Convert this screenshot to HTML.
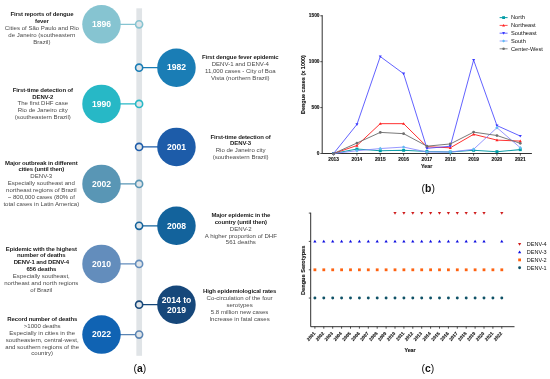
<!DOCTYPE html>
<html lang="en">
<head>
<meta charset="utf-8">
<title>Dengue in Brazil: timeline, cases by region and serotypes</title>
<style>
html,body{margin:0;padding:0;background:#fff;}
body{width:550px;height:379px;overflow:hidden;}
svg{display:block;}
text{font-family:"Liberation Sans", sans-serif;}
.yr{font-size:8.6px;font-weight:bold;fill:#fff;text-anchor:middle;}
.tb{font-size:6px;font-weight:bold;fill:#222;text-anchor:middle;letter-spacing:-0.12px;}
.tn{font-size:6.07px;fill:#4a4a4a;text-anchor:middle;}
.cap{font-size:10.4px;fill:#111;text-anchor:middle;}
.tk{font-size:4.8px;font-weight:bold;fill:#111;stroke:#111;stroke-width:0.12px;}
.tk2{font-size:4.6px;font-weight:bold;fill:#111;stroke:#111;stroke-width:0.1px;}
.al{font-size:5.3px;font-weight:bold;fill:#111;stroke:#111;stroke-width:0.1px;}
.lg{font-size:5.7px;fill:#111;}
.lg2{font-size:5.5px;fill:#111;}
</style>
</head>
<body>
<svg width="550" height="379" viewBox="0 0 550 379">
<rect x="0" y="0" width="550" height="379" fill="#ffffff"/>
<rect x="136.35" y="8.3" width="5.7" height="347.5" fill="#e0e4e7"/>
<line x1="101.5" y1="24.35" x2="139.1" y2="24.35" stroke="#86c4d1" stroke-width="1.2"/>
<circle cx="139.1" cy="24.35" r="3.55" fill="#e0e4e7" stroke="#86c4d1" stroke-width="1.6"/>
<circle cx="101.5" cy="24.35" r="19.25" fill="#86c4d1"/>
<text x="101.5" y="27.05" class="yr">1896</text>
<line x1="176.45" y1="67.7" x2="139.1" y2="67.7" stroke="#1a7db5" stroke-width="1.2"/>
<circle cx="139.1" cy="67.7" r="3.55" fill="#e0e4e7" stroke="#1a7db5" stroke-width="1.6"/>
<circle cx="176.45" cy="67.7" r="19.25" fill="#1a7db5"/>
<text x="176.45" y="70.40" class="yr">1982</text>
<line x1="101.5" y1="103.9" x2="139.1" y2="103.9" stroke="#27b8c6" stroke-width="1.2"/>
<circle cx="139.1" cy="103.9" r="3.55" fill="#e0e4e7" stroke="#27b8c6" stroke-width="1.6"/>
<circle cx="101.5" cy="103.9" r="19.25" fill="#27b8c6"/>
<text x="101.5" y="106.60" class="yr">1990</text>
<line x1="176.45" y1="146.9" x2="139.1" y2="146.9" stroke="#1d5ca9" stroke-width="1.2"/>
<circle cx="139.1" cy="146.9" r="3.55" fill="#e0e4e7" stroke="#1d5ca9" stroke-width="1.6"/>
<circle cx="176.45" cy="146.9" r="19.25" fill="#1d5ca9"/>
<text x="176.45" y="149.60" class="yr">2001</text>
<line x1="101.5" y1="183.9" x2="139.1" y2="183.9" stroke="#5996b5" stroke-width="1.2"/>
<circle cx="139.1" cy="183.9" r="3.55" fill="#e0e4e7" stroke="#5996b5" stroke-width="1.6"/>
<circle cx="101.5" cy="183.9" r="19.25" fill="#5996b5"/>
<text x="101.5" y="186.60" class="yr">2002</text>
<line x1="176.45" y1="225.8" x2="139.1" y2="225.8" stroke="#13639c" stroke-width="1.2"/>
<circle cx="139.1" cy="225.8" r="3.55" fill="#e0e4e7" stroke="#13639c" stroke-width="1.6"/>
<circle cx="176.45" cy="225.8" r="19.25" fill="#13639c"/>
<text x="176.45" y="228.50" class="yr">2008</text>
<line x1="101.5" y1="263.9" x2="139.1" y2="263.9" stroke="#638dbc" stroke-width="1.2"/>
<circle cx="139.1" cy="263.9" r="3.55" fill="#e0e4e7" stroke="#638dbc" stroke-width="1.6"/>
<circle cx="101.5" cy="263.9" r="19.25" fill="#638dbc"/>
<text x="101.5" y="266.60" class="yr">2010</text>
<line x1="176.45" y1="304.7" x2="139.1" y2="304.7" stroke="#16477a" stroke-width="1.2"/>
<circle cx="139.1" cy="304.7" r="3.55" fill="#e0e4e7" stroke="#16477a" stroke-width="1.6"/>
<circle cx="176.45" cy="304.7" r="19.25" fill="#16477a"/>
<text x="176.45" y="302.70" class="yr">2014 to</text>
<text x="176.45" y="312.50" class="yr">2019</text>
<line x1="101.5" y1="334.6" x2="139.1" y2="334.6" stroke="#5a84b3" stroke-width="1.2"/>
<circle cx="139.1" cy="334.6" r="3.55" fill="#e0e4e7" stroke="#5a84b3" stroke-width="1.6"/>
<circle cx="101.5" cy="334.6" r="19.25" fill="#1063b3"/>
<text x="101.5" y="337.30" class="yr">2022</text>
<text x="41.9" y="16.30" class="tb">First reports of dengue</text>
<text x="41.9" y="23.17" class="tb">fever</text>
<text x="41.9" y="30.04" class="tn">Cities of São Paulo and Rio</text>
<text x="41.9" y="36.91" class="tn">de Janeiro (southeastern</text>
<text x="41.9" y="43.78" class="tn">Brazil)</text>
<text x="240.3" y="59.40" class="tb">First dengue fever epidemic</text>
<text x="240.3" y="66.27" class="tn">DENV-1 and DENV-4</text>
<text x="240.3" y="73.14" class="tn">11,000 cases - City of Boa</text>
<text x="240.3" y="80.01" class="tn">Vista (northern Brazil)</text>
<text x="42.8" y="91.70" class="tb">First-time detection of</text>
<text x="42.8" y="98.57" class="tb">DENV-2</text>
<text x="42.8" y="105.44" class="tn">The first DHF case</text>
<text x="42.8" y="112.31" class="tn">Rio de Janeiro city</text>
<text x="42.8" y="119.18" class="tn">(southeastern Brazil)</text>
<text x="240.6" y="138.60" class="tb">First-time detection of</text>
<text x="240.6" y="145.47" class="tb">DENV-3</text>
<text x="240.6" y="152.34" class="tn">Rio de Janeiro city</text>
<text x="240.6" y="159.21" class="tn">(southeastern Brazil)</text>
<text x="41.3" y="164.50" class="tb">Major outbreak in different</text>
<text x="41.3" y="171.37" class="tb">cities (until then)</text>
<text x="41.3" y="178.24" class="tn">DENV-3</text>
<text x="41.3" y="185.11" class="tn">Especially southeast and</text>
<text x="41.3" y="191.98" class="tn">northeast regions of Brazil</text>
<text x="41.3" y="198.85" class="tn">~ 800,000 cases (80% of</text>
<text x="41.3" y="205.72" class="tn">total cases in Latin America)</text>
<text x="240.8" y="216.90" class="tb">Major epidemic in the</text>
<text x="240.8" y="223.77" class="tb">country (until then)</text>
<text x="240.8" y="230.64" class="tn">DENV-2</text>
<text x="240.8" y="237.51" class="tn">A higher proportion of DHF</text>
<text x="240.8" y="244.38" class="tn">561 deaths</text>
<text x="41.3" y="250.60" class="tb">Epidemic with the highest</text>
<text x="41.3" y="257.47" class="tb">number of deaths</text>
<text x="41.3" y="264.34" class="tb">DENV-1 and DENV-4</text>
<text x="41.3" y="271.21" class="tb">656 deaths</text>
<text x="41.3" y="278.08" class="tn">Especially southeast,</text>
<text x="41.3" y="284.95" class="tn">northeast and north regions</text>
<text x="41.3" y="291.82" class="tn">of Brazil</text>
<text x="239.6" y="293.30" class="tb">High epidemiological rates</text>
<text x="239.6" y="300.17" class="tn">Co-circulation of the four</text>
<text x="239.6" y="307.04" class="tn">serotypes</text>
<text x="239.6" y="313.91" class="tn">5.8 million new cases</text>
<text x="239.6" y="320.78" class="tn">Increase in fatal cases</text>
<text x="42.2" y="321.10" class="tb">Record number of deaths</text>
<text x="42.2" y="327.97" class="tn">&gt;1000 deaths</text>
<text x="42.2" y="334.84" class="tn">Especially in cities in the</text>
<text x="42.2" y="341.71" class="tn">southeastern, central-west,</text>
<text x="42.2" y="348.58" class="tn">and southern regions of the</text>
<text x="42.2" y="355.45" class="tn">country)</text>
<text x="139.9" y="371.6" class="cap">(<tspan font-weight="bold">a</tspan>)</text>
<path d="M322.2 15.15V153.5H531.9" fill="none" stroke="#1a1a1a" stroke-width="0.9"/>
<line x1="320.3" y1="153.50" x2="322.2" y2="153.50" stroke="#1a1a1a" stroke-width="0.75"/>
<text x="319.50" y="155.15" class="tk" text-anchor="end">0</text>
<line x1="320.3" y1="107.60" x2="322.2" y2="107.60" stroke="#1a1a1a" stroke-width="0.75"/>
<text x="319.50" y="109.25" class="tk" text-anchor="end">500</text>
<line x1="320.3" y1="61.70" x2="322.2" y2="61.70" stroke="#1a1a1a" stroke-width="0.75"/>
<text x="319.50" y="63.35" class="tk" text-anchor="end">1000</text>
<line x1="320.3" y1="15.80" x2="322.2" y2="15.80" stroke="#1a1a1a" stroke-width="0.75"/>
<text x="319.50" y="17.45" class="tk" text-anchor="end">1500</text>
<line x1="333.60" y1="153.5" x2="333.60" y2="155.6" stroke="#1a1a1a" stroke-width="0.75"/>
<text x="333.60" y="160.80" class="tk" text-anchor="middle">2013</text>
<line x1="356.94" y1="153.5" x2="356.94" y2="155.6" stroke="#1a1a1a" stroke-width="0.75"/>
<text x="356.94" y="160.80" class="tk" text-anchor="middle">2014</text>
<line x1="380.27" y1="153.5" x2="380.27" y2="155.6" stroke="#1a1a1a" stroke-width="0.75"/>
<text x="380.27" y="160.80" class="tk" text-anchor="middle">2015</text>
<line x1="403.61" y1="153.5" x2="403.61" y2="155.6" stroke="#1a1a1a" stroke-width="0.75"/>
<text x="403.61" y="160.80" class="tk" text-anchor="middle">2016</text>
<line x1="426.95" y1="153.5" x2="426.95" y2="155.6" stroke="#1a1a1a" stroke-width="0.75"/>
<text x="426.95" y="160.80" class="tk" text-anchor="middle">2017</text>
<line x1="450.29" y1="153.5" x2="450.29" y2="155.6" stroke="#1a1a1a" stroke-width="0.75"/>
<text x="450.29" y="160.80" class="tk" text-anchor="middle">2018</text>
<line x1="473.62" y1="153.5" x2="473.62" y2="155.6" stroke="#1a1a1a" stroke-width="0.75"/>
<text x="473.62" y="160.80" class="tk" text-anchor="middle">2019</text>
<line x1="496.96" y1="153.5" x2="496.96" y2="155.6" stroke="#1a1a1a" stroke-width="0.75"/>
<text x="496.96" y="160.80" class="tk" text-anchor="middle">2020</text>
<line x1="520.30" y1="153.5" x2="520.30" y2="155.6" stroke="#1a1a1a" stroke-width="0.75"/>
<text x="520.30" y="160.80" class="tk" text-anchor="middle">2021</text>
<text x="426.7" y="168.1" class="al" text-anchor="middle">Year</text>
<text transform="translate(305.3 84.6) rotate(-90)" class="al" text-anchor="middle" textLength="59" lengthAdjust="spacingAndGlyphs">Dengue cases (x 1000)</text>
<polyline points="333.60,153.50 356.94,149.09 380.27,150.75 403.61,150.29 426.95,151.48 450.29,152.03 473.62,150.29 496.96,151.66 520.30,149.64" fill="none" stroke="#14a0aa" stroke-width="1.05" stroke-linejoin="round"/>
<rect x="332.13" y="152.03" width="2.94" height="2.94" fill="#009da6"/>
<rect x="355.47" y="147.62" width="2.94" height="2.94" fill="#009da6"/>
<rect x="378.80" y="149.28" width="2.94" height="2.94" fill="#009da6"/>
<rect x="402.14" y="148.82" width="2.94" height="2.94" fill="#009da6"/>
<rect x="425.48" y="150.01" width="2.94" height="2.94" fill="#009da6"/>
<rect x="448.82" y="150.56" width="2.94" height="2.94" fill="#009da6"/>
<rect x="472.15" y="148.82" width="2.94" height="2.94" fill="#009da6"/>
<rect x="495.49" y="150.19" width="2.94" height="2.94" fill="#009da6"/>
<rect x="518.83" y="148.17" width="2.94" height="2.94" fill="#009da6"/>
<polyline points="333.60,153.50 356.94,145.51 380.27,123.67 403.61,123.67 426.95,146.71 450.29,147.81 473.62,134.31 496.96,140.10 520.30,141.11" fill="none" stroke="#ff2626" stroke-width="0.95" stroke-linejoin="round"/>
<path d="M333.60 151.98L335.12 154.64H332.08Z" fill="#ff2020"/>
<path d="M356.94 143.99L358.46 146.66H355.42Z" fill="#ff2020"/>
<path d="M380.27 122.14L381.80 124.81H378.75Z" fill="#ff2020"/>
<path d="M403.61 122.14L405.13 124.81H402.09Z" fill="#ff2020"/>
<path d="M426.95 145.18L428.47 147.85H425.43Z" fill="#ff2020"/>
<path d="M450.29 146.29L451.81 148.95H448.76Z" fill="#ff2020"/>
<path d="M473.62 132.79L475.15 135.46H472.10Z" fill="#ff2020"/>
<path d="M496.96 138.57L498.48 141.24H495.44Z" fill="#ff2020"/>
<path d="M520.30 139.58L521.82 142.25H518.78Z" fill="#ff2020"/>
<polyline points="333.60,153.50 356.94,124.40 380.27,56.56 403.61,73.73 426.95,148.36 450.29,146.25 473.62,60.05 496.96,125.59 520.30,136.06" fill="none" stroke="#4646ff" stroke-width="0.85" stroke-linejoin="round"/>
<path d="M333.60 155.02L335.12 152.36H332.08Z" fill="#3838ff"/>
<path d="M356.94 125.92L358.46 123.26H355.42Z" fill="#3838ff"/>
<path d="M380.27 58.08L381.80 55.42H378.75Z" fill="#3838ff"/>
<path d="M403.61 75.25L405.13 72.58H402.09Z" fill="#3838ff"/>
<path d="M426.95 149.88L428.47 147.22H425.43Z" fill="#3838ff"/>
<path d="M450.29 147.77L451.81 145.11H448.76Z" fill="#3838ff"/>
<path d="M473.62 61.57L475.15 58.91H472.10Z" fill="#3838ff"/>
<path d="M496.96 127.12L498.48 124.45H495.44Z" fill="#3838ff"/>
<path d="M520.30 137.58L521.82 134.92H518.78Z" fill="#3838ff"/>
<polyline points="333.60,153.50 356.94,150.75 380.27,148.54 403.61,147.07 426.95,152.03 450.29,152.03 473.62,149.28 496.96,127.70 520.30,147.72" fill="none" stroke="#8585ff" stroke-width="0.85" stroke-linejoin="round"/>
<path d="M333.60 151.82L335.28 153.50L333.60 155.18L331.92 153.50Z" fill="#62bdf2"/>
<path d="M356.94 149.07L358.62 150.75L356.94 152.43L355.26 150.75Z" fill="#62bdf2"/>
<path d="M380.27 146.86L381.95 148.54L380.27 150.22L378.59 148.54Z" fill="#62bdf2"/>
<path d="M403.61 145.39L405.29 147.07L403.61 148.75L401.93 147.07Z" fill="#62bdf2"/>
<path d="M426.95 150.35L428.63 152.03L426.95 153.71L425.27 152.03Z" fill="#62bdf2"/>
<path d="M450.29 150.35L451.97 152.03L450.29 153.71L448.61 152.03Z" fill="#62bdf2"/>
<path d="M473.62 147.60L475.31 149.28L473.62 150.96L471.94 149.28Z" fill="#62bdf2"/>
<path d="M496.96 126.02L498.64 127.70L496.96 129.38L495.28 127.70Z" fill="#62bdf2"/>
<path d="M520.30 146.04L521.98 147.72L520.30 149.40L518.62 147.72Z" fill="#62bdf2"/>
<polyline points="333.60,153.50 356.94,143.03 380.27,132.39 403.61,133.67 426.95,146.16 450.29,143.95 473.62,132.11 496.96,135.51 520.30,143.31" fill="none" stroke="#6a6a6a" stroke-width="0.9" stroke-linejoin="round"/>
<circle cx="333.60" cy="153.50" r="1.37" fill="#6e6e6e"/>
<circle cx="356.94" cy="143.03" r="1.37" fill="#6e6e6e"/>
<circle cx="380.27" cy="132.39" r="1.37" fill="#6e6e6e"/>
<circle cx="403.61" cy="133.67" r="1.37" fill="#6e6e6e"/>
<circle cx="426.95" cy="146.16" r="1.37" fill="#6e6e6e"/>
<circle cx="450.29" cy="143.95" r="1.37" fill="#6e6e6e"/>
<circle cx="473.62" cy="132.11" r="1.37" fill="#6e6e6e"/>
<circle cx="496.96" cy="135.51" r="1.37" fill="#6e6e6e"/>
<circle cx="520.30" cy="143.31" r="1.37" fill="#6e6e6e"/>
<line x1="499.6" y1="17.60" x2="507.6" y2="17.60" stroke="#14a0aa" stroke-width="1.05"/>
<rect x="502.20" y="16.20" width="2.80" height="2.80" fill="#009da6"/>
<text x="511" y="19.40" class="lg">North</text>
<line x1="499.6" y1="25.40" x2="507.6" y2="25.40" stroke="#ff2626" stroke-width="0.8"/>
<path d="M503.60 23.95L505.05 26.49H502.15Z" fill="#ff2020"/>
<text x="511" y="27.20" class="lg">Northeast</text>
<line x1="499.6" y1="33.20" x2="507.6" y2="33.20" stroke="#4646ff" stroke-width="0.8"/>
<path d="M503.60 34.65L505.05 32.11H502.15Z" fill="#3838ff"/>
<text x="511" y="35.00" class="lg">Southeast</text>
<line x1="499.6" y1="41.00" x2="507.6" y2="41.00" stroke="#8f9cff" stroke-width="0.85"/>
<path d="M503.60 39.40L505.20 41.00L503.60 42.60L502.00 41.00Z" fill="#62bdf2"/>
<text x="511" y="42.80" class="lg">South</text>
<line x1="499.6" y1="48.80" x2="507.6" y2="48.80" stroke="#666" stroke-width="0.75"/>
<circle cx="503.60" cy="48.80" r="1.30" fill="#6e6e6e"/>
<text x="511" y="50.60" class="lg">Center-West</text>
<text x="428.2" y="191.6" class="cap">(<tspan font-weight="bold">b</tspan>)</text>
<path d="M310.7 212.7V326.7H514.5" fill="none" stroke="#1a1a1a" stroke-width="0.9"/>
<line x1="308.8" y1="213.1" x2="310.7" y2="213.1" stroke="#1a1a1a" stroke-width="0.75"/>
<line x1="308.8" y1="241.4" x2="310.7" y2="241.4" stroke="#1a1a1a" stroke-width="0.75"/>
<line x1="308.8" y1="269.8" x2="310.7" y2="269.8" stroke="#1a1a1a" stroke-width="0.75"/>
<line x1="308.8" y1="298.05" x2="310.7" y2="298.05" stroke="#1a1a1a" stroke-width="0.75"/>
<line x1="314.90" y1="326.7" x2="314.90" y2="328.7" stroke="#1a1a1a" stroke-width="0.75"/>
<text transform="translate(315.60 333.60) rotate(-48)" class="tk2" text-anchor="end">2001</text>
<line x1="323.80" y1="326.7" x2="323.80" y2="328.7" stroke="#1a1a1a" stroke-width="0.75"/>
<text transform="translate(324.50 333.60) rotate(-48)" class="tk2" text-anchor="end">2002</text>
<line x1="332.70" y1="326.7" x2="332.70" y2="328.7" stroke="#1a1a1a" stroke-width="0.75"/>
<text transform="translate(333.40 333.60) rotate(-48)" class="tk2" text-anchor="end">2003</text>
<line x1="341.60" y1="326.7" x2="341.60" y2="328.7" stroke="#1a1a1a" stroke-width="0.75"/>
<text transform="translate(342.30 333.60) rotate(-48)" class="tk2" text-anchor="end">2004</text>
<line x1="350.50" y1="326.7" x2="350.50" y2="328.7" stroke="#1a1a1a" stroke-width="0.75"/>
<text transform="translate(351.20 333.60) rotate(-48)" class="tk2" text-anchor="end">2005</text>
<line x1="359.40" y1="326.7" x2="359.40" y2="328.7" stroke="#1a1a1a" stroke-width="0.75"/>
<text transform="translate(360.10 333.60) rotate(-48)" class="tk2" text-anchor="end">2006</text>
<line x1="368.30" y1="326.7" x2="368.30" y2="328.7" stroke="#1a1a1a" stroke-width="0.75"/>
<text transform="translate(369.00 333.60) rotate(-48)" class="tk2" text-anchor="end">2007</text>
<line x1="377.20" y1="326.7" x2="377.20" y2="328.7" stroke="#1a1a1a" stroke-width="0.75"/>
<text transform="translate(377.90 333.60) rotate(-48)" class="tk2" text-anchor="end">2008</text>
<line x1="386.10" y1="326.7" x2="386.10" y2="328.7" stroke="#1a1a1a" stroke-width="0.75"/>
<text transform="translate(386.80 333.60) rotate(-48)" class="tk2" text-anchor="end">2009</text>
<line x1="395.00" y1="326.7" x2="395.00" y2="328.7" stroke="#1a1a1a" stroke-width="0.75"/>
<text transform="translate(395.70 333.60) rotate(-48)" class="tk2" text-anchor="end">2010</text>
<line x1="403.90" y1="326.7" x2="403.90" y2="328.7" stroke="#1a1a1a" stroke-width="0.75"/>
<text transform="translate(404.60 333.60) rotate(-48)" class="tk2" text-anchor="end">2011</text>
<line x1="412.80" y1="326.7" x2="412.80" y2="328.7" stroke="#1a1a1a" stroke-width="0.75"/>
<text transform="translate(413.50 333.60) rotate(-48)" class="tk2" text-anchor="end">2012</text>
<line x1="421.70" y1="326.7" x2="421.70" y2="328.7" stroke="#1a1a1a" stroke-width="0.75"/>
<text transform="translate(422.40 333.60) rotate(-48)" class="tk2" text-anchor="end">2013</text>
<line x1="430.60" y1="326.7" x2="430.60" y2="328.7" stroke="#1a1a1a" stroke-width="0.75"/>
<text transform="translate(431.30 333.60) rotate(-48)" class="tk2" text-anchor="end">2014</text>
<line x1="439.50" y1="326.7" x2="439.50" y2="328.7" stroke="#1a1a1a" stroke-width="0.75"/>
<text transform="translate(440.20 333.60) rotate(-48)" class="tk2" text-anchor="end">2015</text>
<line x1="448.40" y1="326.7" x2="448.40" y2="328.7" stroke="#1a1a1a" stroke-width="0.75"/>
<text transform="translate(449.10 333.60) rotate(-48)" class="tk2" text-anchor="end">2016</text>
<line x1="457.30" y1="326.7" x2="457.30" y2="328.7" stroke="#1a1a1a" stroke-width="0.75"/>
<text transform="translate(458.00 333.60) rotate(-48)" class="tk2" text-anchor="end">2017</text>
<line x1="466.20" y1="326.7" x2="466.20" y2="328.7" stroke="#1a1a1a" stroke-width="0.75"/>
<text transform="translate(466.90 333.60) rotate(-48)" class="tk2" text-anchor="end">2018</text>
<line x1="475.10" y1="326.7" x2="475.10" y2="328.7" stroke="#1a1a1a" stroke-width="0.75"/>
<text transform="translate(475.80 333.60) rotate(-48)" class="tk2" text-anchor="end">2019</text>
<line x1="484.00" y1="326.7" x2="484.00" y2="328.7" stroke="#1a1a1a" stroke-width="0.75"/>
<text transform="translate(484.70 333.60) rotate(-48)" class="tk2" text-anchor="end">2020</text>
<line x1="492.90" y1="326.7" x2="492.90" y2="328.7" stroke="#1a1a1a" stroke-width="0.75"/>
<text transform="translate(493.60 333.60) rotate(-48)" class="tk2" text-anchor="end">2021</text>
<line x1="501.80" y1="326.7" x2="501.80" y2="328.7" stroke="#1a1a1a" stroke-width="0.75"/>
<text transform="translate(502.50 333.60) rotate(-48)" class="tk2" text-anchor="end">2022</text>
<path d="M395.00 214.72L396.62 211.88H393.38Z" fill="#cf1c1c"/>
<path d="M403.90 214.72L405.52 211.88H402.28Z" fill="#cf1c1c"/>
<path d="M412.80 214.72L414.42 211.88H411.18Z" fill="#cf1c1c"/>
<path d="M421.70 214.72L423.32 211.88H420.08Z" fill="#cf1c1c"/>
<path d="M430.60 214.72L432.22 211.88H428.98Z" fill="#cf1c1c"/>
<path d="M439.50 214.72L441.12 211.88H437.88Z" fill="#cf1c1c"/>
<path d="M448.40 214.72L450.02 211.88H446.78Z" fill="#cf1c1c"/>
<path d="M457.30 214.72L458.92 211.88H455.68Z" fill="#cf1c1c"/>
<path d="M466.20 214.72L467.82 211.88H464.58Z" fill="#cf1c1c"/>
<path d="M475.10 214.72L476.72 211.88H473.48Z" fill="#cf1c1c"/>
<path d="M484.00 214.72L485.62 211.88H482.38Z" fill="#cf1c1c"/>
<path d="M501.80 214.72L503.42 211.88H500.18Z" fill="#cf1c1c"/>
<path d="M519.60 245.72L521.22 242.88H517.98Z" fill="#cf1c1c"/>
<text x="526.8" y="245.90" class="lg2">DENV-4</text>
<path d="M314.90 239.78L316.52 242.62H313.28Z" fill="#0c0ce0"/>
<path d="M323.80 239.78L325.42 242.62H322.18Z" fill="#0c0ce0"/>
<path d="M332.70 239.78L334.32 242.62H331.08Z" fill="#0c0ce0"/>
<path d="M341.60 239.78L343.22 242.62H339.98Z" fill="#0c0ce0"/>
<path d="M350.50 239.78L352.12 242.62H348.88Z" fill="#0c0ce0"/>
<path d="M359.40 239.78L361.02 242.62H357.78Z" fill="#0c0ce0"/>
<path d="M368.30 239.78L369.92 242.62H366.68Z" fill="#0c0ce0"/>
<path d="M377.20 239.78L378.82 242.62H375.58Z" fill="#0c0ce0"/>
<path d="M386.10 239.78L387.72 242.62H384.48Z" fill="#0c0ce0"/>
<path d="M395.00 239.78L396.62 242.62H393.38Z" fill="#0c0ce0"/>
<path d="M403.90 239.78L405.52 242.62H402.28Z" fill="#0c0ce0"/>
<path d="M412.80 239.78L414.42 242.62H411.18Z" fill="#0c0ce0"/>
<path d="M421.70 239.78L423.32 242.62H420.08Z" fill="#0c0ce0"/>
<path d="M430.60 239.78L432.22 242.62H428.98Z" fill="#0c0ce0"/>
<path d="M439.50 239.78L441.12 242.62H437.88Z" fill="#0c0ce0"/>
<path d="M448.40 239.78L450.02 242.62H446.78Z" fill="#0c0ce0"/>
<path d="M457.30 239.78L458.92 242.62H455.68Z" fill="#0c0ce0"/>
<path d="M466.20 239.78L467.82 242.62H464.58Z" fill="#0c0ce0"/>
<path d="M475.10 239.78L476.72 242.62H473.48Z" fill="#0c0ce0"/>
<path d="M484.00 239.78L485.62 242.62H482.38Z" fill="#0c0ce0"/>
<path d="M501.80 239.78L503.42 242.62H500.18Z" fill="#0c0ce0"/>
<path d="M519.60 250.38L521.22 253.22H517.98Z" fill="#0c0ce0"/>
<text x="526.8" y="253.80" class="lg2">DENV-3</text>
<rect x="313.50" y="268.40" width="2.80" height="2.80" fill="#ff6210"/>
<rect x="322.40" y="268.40" width="2.80" height="2.80" fill="#ff6210"/>
<rect x="331.30" y="268.40" width="2.80" height="2.80" fill="#ff6210"/>
<rect x="340.20" y="268.40" width="2.80" height="2.80" fill="#ff6210"/>
<rect x="349.10" y="268.40" width="2.80" height="2.80" fill="#ff6210"/>
<rect x="358.00" y="268.40" width="2.80" height="2.80" fill="#ff6210"/>
<rect x="366.90" y="268.40" width="2.80" height="2.80" fill="#ff6210"/>
<rect x="375.80" y="268.40" width="2.80" height="2.80" fill="#ff6210"/>
<rect x="384.70" y="268.40" width="2.80" height="2.80" fill="#ff6210"/>
<rect x="393.60" y="268.40" width="2.80" height="2.80" fill="#ff6210"/>
<rect x="402.50" y="268.40" width="2.80" height="2.80" fill="#ff6210"/>
<rect x="411.40" y="268.40" width="2.80" height="2.80" fill="#ff6210"/>
<rect x="420.30" y="268.40" width="2.80" height="2.80" fill="#ff6210"/>
<rect x="429.20" y="268.40" width="2.80" height="2.80" fill="#ff6210"/>
<rect x="438.10" y="268.40" width="2.80" height="2.80" fill="#ff6210"/>
<rect x="447.00" y="268.40" width="2.80" height="2.80" fill="#ff6210"/>
<rect x="455.90" y="268.40" width="2.80" height="2.80" fill="#ff6210"/>
<rect x="464.80" y="268.40" width="2.80" height="2.80" fill="#ff6210"/>
<rect x="473.70" y="268.40" width="2.80" height="2.80" fill="#ff6210"/>
<rect x="482.60" y="268.40" width="2.80" height="2.80" fill="#ff6210"/>
<rect x="491.50" y="268.40" width="2.80" height="2.80" fill="#ff6210"/>
<rect x="500.40" y="268.40" width="2.80" height="2.80" fill="#ff6210"/>
<rect x="518.20" y="258.50" width="2.80" height="2.80" fill="#ff6210"/>
<text x="526.8" y="261.70" class="lg2">DENV-2</text>
<circle cx="314.90" cy="298.05" r="1.46" fill="#0e5166"/>
<circle cx="323.80" cy="298.05" r="1.46" fill="#0e5166"/>
<circle cx="332.70" cy="298.05" r="1.46" fill="#0e5166"/>
<circle cx="341.60" cy="298.05" r="1.46" fill="#0e5166"/>
<circle cx="350.50" cy="298.05" r="1.46" fill="#0e5166"/>
<circle cx="359.40" cy="298.05" r="1.46" fill="#0e5166"/>
<circle cx="368.30" cy="298.05" r="1.46" fill="#0e5166"/>
<circle cx="377.20" cy="298.05" r="1.46" fill="#0e5166"/>
<circle cx="386.10" cy="298.05" r="1.46" fill="#0e5166"/>
<circle cx="395.00" cy="298.05" r="1.46" fill="#0e5166"/>
<circle cx="403.90" cy="298.05" r="1.46" fill="#0e5166"/>
<circle cx="412.80" cy="298.05" r="1.46" fill="#0e5166"/>
<circle cx="421.70" cy="298.05" r="1.46" fill="#0e5166"/>
<circle cx="430.60" cy="298.05" r="1.46" fill="#0e5166"/>
<circle cx="439.50" cy="298.05" r="1.46" fill="#0e5166"/>
<circle cx="448.40" cy="298.05" r="1.46" fill="#0e5166"/>
<circle cx="457.30" cy="298.05" r="1.46" fill="#0e5166"/>
<circle cx="466.20" cy="298.05" r="1.46" fill="#0e5166"/>
<circle cx="475.10" cy="298.05" r="1.46" fill="#0e5166"/>
<circle cx="484.00" cy="298.05" r="1.46" fill="#0e5166"/>
<circle cx="492.90" cy="298.05" r="1.46" fill="#0e5166"/>
<circle cx="501.80" cy="298.05" r="1.46" fill="#0e5166"/>
<circle cx="519.60" cy="267.80" r="1.46" fill="#0e5166"/>
<text x="526.8" y="269.60" class="lg2">DENV-1</text>
<text x="410" y="351.6" class="al" text-anchor="middle">Year</text>
<text transform="translate(305.4 270.3) rotate(-90)" class="al" text-anchor="middle" textLength="49.3" lengthAdjust="spacingAndGlyphs">Dengue Serotypes</text>
<text x="427.8" y="371.8" class="cap">(<tspan font-weight="bold">c</tspan>)</text>
</svg>
</body>
</html>
